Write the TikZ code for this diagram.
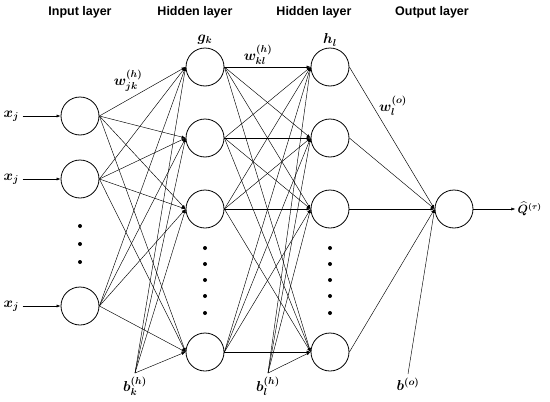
\documentclass[tikz,border=0pt]{standalone}
\usepackage{fontspec}
\usepackage{amsmath}
\usepackage{bm}
\setsansfont{Liberation Sans}
\usetikzlibrary{arrows.meta}

\tikzset{
    neuron/.style={draw, circle, line width=0.8pt, minimum size=38pt, inner sep=0pt},
    link/.style={line width=0.45pt, -{Latex[length=4pt,width=3pt]}},
    layertitle/.style={font=\sffamily\bfseries\fontsize{12.5}{14}\selectfont},
    mathlabel/.style={font=\Large},
    dotmark/.style={fill, circle, inner sep=0pt, minimum size=4pt}
}

\begin{document}
\begin{tikzpicture}[x=1pt, y=-1pt]
    \useasboundingbox (0, 0) rectangle (550, 402);

    % layer titles
    \path (80, 12) node [layertitle] (tin) {Input layer};
    \path (195, 12) node [layertitle] (th1) {Hidden layer};
    \path (314, 12) node [layertitle] (th2) {Hidden layer};
    \path (432, 12) node [layertitle] (tout) {Output layer};

    % input layer
    \path (80, 116) node [neuron] (in1) {};
    \path (80, 179) node [neuron] (in2) {};
    \path (80, 306) node [neuron] (in3) {};
    \foreach \yy in {226, 244, 262}
        \path (80, \yy) node [dotmark] {};

    % first hidden layer
    \path (205, 67) node [neuron] (g1) {};
    \path (205, 138) node [neuron] (g2) {};
    \path (205, 209) node [neuron] (g3) {};
    \path (205, 352) node [neuron] (g4) {};
    \foreach \yy in {248, 264, 280, 296, 313}
        \path (205, \yy) node [dotmark] {};

    % second hidden layer
    \path (330, 67) node [neuron] (h1) {};
    \path (330, 138) node [neuron] (h2) {};
    \path (330, 209) node [neuron] (h3) {};
    \path (330, 352) node [neuron] (h4) {};
    \foreach \yy in {248, 264, 280, 296, 313}
        \path (330, \yy) node [dotmark] {};

    % output layer
    \path (454, 209) node [neuron] (out) {};

    % inputs
    \foreach \i in {1, 2, 3} {
        \path (in\i.west) ++(-38, 0) coordinate (src\i);
        \path (src\i) node [left=0pt, mathlabel] {$\bm{x_j}$};
        \draw [link] (src\i) -- (in\i.west);
    }

    % biases
    \path (135, 373) coordinate (bk) node [below=0pt, mathlabel] (bkl) {$\bm{b_k^{(h)}}$};
    \path (268, 373) coordinate (bl) node [below=0pt, mathlabel] (bll) {$\bm{b_l^{(h)}}$};
    \path (408, 374) coordinate (bo) node [below=0pt, mathlabel] (bol) {$\bm{b^{(o)}}$};

    % connections
    \foreach \i in {1, 2, 3}
        \foreach \k in {1, 2, 3, 4}
            \draw [link] (in\i.east) -- (g\k.west);
    \foreach \k in {1, 2, 3, 4} {
        \draw [link] (bk) -- (g\k.west);
        \draw [link] (bl) -- (h\k.west);
        \draw [link] (h\k.east) -- (out.west);
        \foreach \l in {1, 2, 3, 4}
            \draw [link] (g\k.east) -- (h\l.west);
    }
    \draw [link] (bo) -- (out.west);

    % output
    \path (out.east) ++(42, 0) coordinate (qhat);
    \draw [link] (out.east) -- (qhat);
    \path (qhat) node [right=0pt, font=\large, inner sep=2pt] (ql) {$\bm{\widehat{Q}^{(\tau)}}$};

    % labels
    \path (205, 40) node [mathlabel] (gk) {$\bm{g_k}$};
    \path (330, 40) node [mathlabel] (hl) {$\bm{h_l}$};
    \path (128, 81) node [mathlabel] (wjk) {$\bm{w_{jk}^{(h)}}$};
    \path (258, 55) node [mathlabel] (wkl) {$\bm{w_{kl}^{(h)}}$};
    \path (393, 106) node [mathlabel] (wl) {$\bm{w_l^{(o)}}$};
\end{tikzpicture}
\end{document}
